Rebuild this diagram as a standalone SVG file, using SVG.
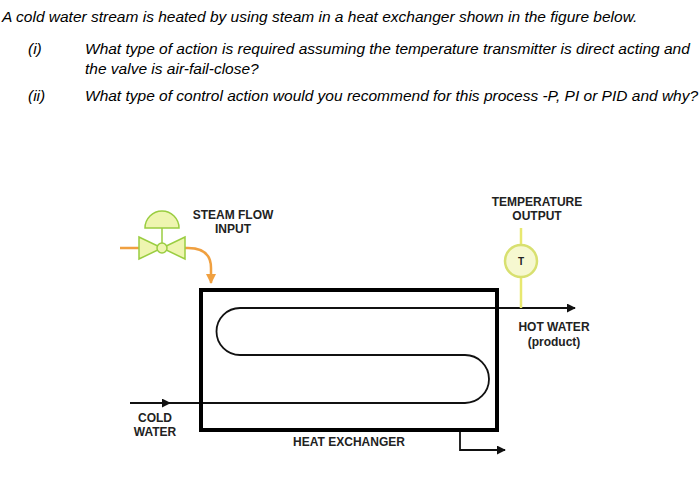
<svg xmlns="http://www.w3.org/2000/svg" width="700" height="490" viewBox="0 0 700 490">
<defs>
<style>
.q{font-family:"Liberation Sans",Arial,sans-serif;font-style:italic;font-size:15.5px;fill:#000}
.l{font-family:"Liberation Sans",Arial,sans-serif;font-weight:bold;font-size:12px;fill:#222;text-anchor:middle}
.ln{fill:none;stroke:#111;stroke-width:1.8}
</style>
<marker id="a" viewBox="0 0 10 10" refX="9" refY="5" markerWidth="5" markerHeight="5" orient="auto"><path d="M0,0L10,5L0,10z" fill="#111"/></marker>
<marker id="o" viewBox="0 0 10 10" refX="9" refY="5" markerWidth="4" markerHeight="4" orient="auto"><path d="M0,0L10,5L0,10z" fill="#f0a040"/></marker>
</defs>
<rect width="700" height="490" fill="#fff"/>
<text class="q" x="2" y="22">A cold water stream is heated by using steam in a heat exchanger shown in the figure below.</text>
<text class="q" x="28" y="54">(i)</text>
<text class="q" x="85" y="54">What type of action is required assuming the temperature transmitter is direct acting and</text>
<text class="q" x="85" y="74">the valve is air-fail-close?</text>
<text class="q" x="28" y="101">(ii)</text>
<text class="q" x="85" y="101">What type of control action would you recommend for this process -P, PI or PID and why?</text>
<g id="connectors">
<path d="M120,248H188Q211,248 211,268V283" fill="none" stroke="#f0a040" stroke-width="2.5" marker-end="url(#o)"/>
<path class="ln" d="M130,403H170" marker-end="url(#a)"/>
<path class="ln" d="M165,403H465A24,24 0 0 0 465,355H240A23.5,23.5 0 0 1 240,308H575" marker-end="url(#a)"/>
<path class="ln" d="M460,432V450H505" marker-end="url(#a)"/>
<line x1="521" y1="228" x2="521" y2="308" stroke="#e8e870" stroke-width="2.5"/>
</g>
<g id="exchanger"><rect x="201" y="290" width="296" height="140" fill="none" stroke="#000" stroke-width="4"/>
<text class="l" x="349" y="446">HEAT EXCHANGER</text></g>
<g id="valve" stroke="#9acd40" stroke-width="1.5" fill="#eef5b0">
<path d="M145,228A17,17 0 0 1 179,228Z"/>
<line x1="162" y1="228" x2="162" y2="244"/>
<path d="M139,237V259L162,248ZM185,237V259L162,248Z"/>
<circle cx="162" cy="248" r="5"/>
</g>
<g id="steam-label"><text class="l" x="233" y="219">STEAM FLOW</text><text class="l" x="233" y="233">INPUT</text></g>
<g id="temp"><circle cx="521" cy="261" r="16" fill="#f6f8d0" stroke="#d8e070" stroke-width="2.5"/>
<text class="l" x="521" y="265" style="font-size:10px">T</text>
<text class="l" x="537" y="206">TEMPERATURE</text><text class="l" x="537" y="220">OUTPUT</text></g>
<g id="hot"><text class="l" x="554" y="331">HOT WATER</text><text class="l" x="554" y="346">(product)</text></g>
<g id="cold"><text class="l" x="155" y="422">COLD</text><text class="l" x="155" y="436">WATER</text></g>
</svg>
